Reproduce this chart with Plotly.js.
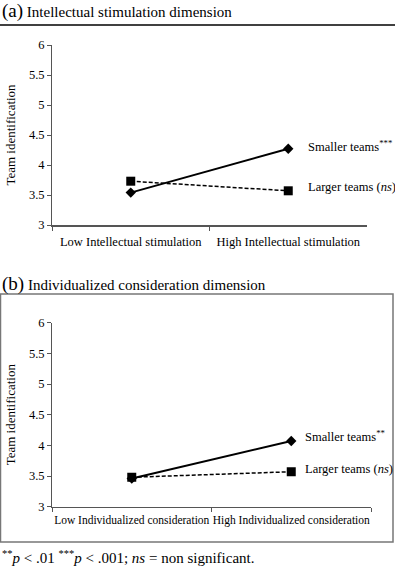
<!DOCTYPE html>
<html>
<head>
<meta charset="utf-8">
<script src="https://cdn.plot.ly/plotly-3.0.1.min.js"></script>
<style>html,body{margin:0;padding:0;background:#fff;}#chart{width:395px;height:566px;}</style>
</head>
<body>
<div id="chart"></div>
<script>
// Panel (a)
const categoriesA = ["Low Intellectual stimulation", "High Intellectual stimulation"];
const smallerA = [3.54, 4.27];
const largerA = [3.73, 3.57];
// Panel (b)
const categoriesB = ["Low Individualized consideration", "High Individualized consideration"];
const smallerB = [3.46, 4.07];
const largerB = [3.48, 3.57];
const yTicks = [3, 3.5, 4, 4.5, 5, 5.5, 6];

const FONT = '"Liberation Serif", "Times New Roman", serif';

const traces = [
  {x: categoriesA, y: smallerA, xaxis: 'x', yaxis: 'y', mode: 'lines+markers', name: 'Smaller teams',
   line: {color: '#000', width: 2}, marker: {symbol: 'diamond', size: 8, color: '#000'}},
  {x: categoriesA, y: largerA, xaxis: 'x', yaxis: 'y', mode: 'lines+markers', name: 'Larger teams',
   line: {color: '#000', width: 1.5, dash: '4px,2px'}, marker: {symbol: 'square', size: 9, color: '#000'}},
  {x: categoriesB, y: smallerB, xaxis: 'x2', yaxis: 'y2', mode: 'lines+markers', name: 'Smaller teams',
   line: {color: '#000', width: 2}, marker: {symbol: 'diamond', size: 8, color: '#000'}},
  {x: categoriesB, y: largerB, xaxis: 'x2', yaxis: 'y2', mode: 'lines+markers', name: 'Larger teams',
   line: {color: '#000', width: 1.5, dash: '4px,2px'}, marker: {symbol: 'square', size: 9, color: '#000'}}
];

const xCommon = {type: 'category', range: [-0.5, 1.5], tickson: 'boundaries', ticks: 'outside', ticklen: 4,
  tickangle: 0, automargin: false, ticklabelstandoff: 4,
  tickcolor: '#555', showline: true, linecolor: '#555', linewidth: 1.5, showgrid: false, zeroline: false,
  tickfont: {family: FONT, size: 12.5, color: '#000'}, fixedrange: true};
const yCommon = {range: [3, 6], tickvals: yTicks, ticktext: yTicks.map(String), ticks: 'outside', ticklen: 4,
  automargin: false,
  tickcolor: '#555', showline: true, linecolor: '#555', linewidth: 1, showgrid: false, zeroline: false,
  tickfont: {family: FONT, size: 12.5, color: '#000'}, fixedrange: true,
  title: {text: 'Team identification', font: {family: FONT, size: 13, color: '#000'}, standoff: 10}};

const layout = {
  width: 395, height: 566,
  margin: {l: 0, r: 0, t: 0, b: 0},
  paper_bgcolor: '#fff', plot_bgcolor: 'rgba(0,0,0,0)',
  showlegend: false,
  font: {family: FONT, color: '#000'},
  xaxis: Object.assign({}, xCommon, {domain: [52/395, 367/395], anchor: 'y'}),
  yaxis: Object.assign({}, yCommon, {domain: [(566-225)/566, (566-45)/566], anchor: 'x'}),
  xaxis2: Object.assign({}, xCommon, {domain: [52/395, 371/395], anchor: 'y2', ticklabelstandoff: 2,
    tickfont: {family: FONT, size: 11.5, color: '#000'}}),
  yaxis2: Object.assign({}, yCommon, {domain: [(566-506.7)/566, (566-322.7)/566], anchor: 'x2'}),
  shapes: [
    {type: 'line', xref: 'paper', yref: 'paper', x0: 0, x1: 1, y0: 1-25/566, y1: 1-25/566,
     line: {color: '#000', width: 1.5}},
    {type: 'rect', xref: 'paper', yref: 'paper', x0: 0.5/395, x1: 393/395, y0: (566-542)/566, y1: (566-294)/566,
     line: {color: '#777', width: 1.5}}
  ],
  annotations: [
    {xref: 'paper', yref: 'paper', x: 0, y: 1-11/566, xanchor: 'left', yanchor: 'middle', showarrow: false,
     text: '<span style="font-size:19px">(a)</span> Intellectual stimulation dimension', font: {family: FONT, size: 15, color: '#000'}},
    {xref: 'paper', yref: 'paper', x: 0, y: 1-284/566, xanchor: 'left', yanchor: 'middle', showarrow: false,
     text: '<span style="font-size:19px">(b)</span> Individualized consideration dimension', font: {family: FONT, size: 15, color: '#000'}},
    {xref: 'x', yref: 'y', x: 1, y: smallerA[1], xanchor: 'left', yanchor: 'middle', xshift: 18, yshift: 3, showarrow: false,
     text: 'Smaller teams<sup>***</sup>', font: {family: FONT, size: 12.5, color: '#000'}},
    {xref: 'x', yref: 'y', x: 1, y: largerA[1], xanchor: 'left', yanchor: 'middle', xshift: 18, yshift: 4, showarrow: false,
     text: 'Larger teams (<i>ns</i>)', font: {family: FONT, size: 12.5, color: '#000'}},
    {xref: 'x2', yref: 'y2', x: 1, y: smallerB[1], xanchor: 'left', yanchor: 'middle', xshift: 12, yshift: 5, showarrow: false,
     text: 'Smaller teams<sup>**</sup>', font: {family: FONT, size: 12.5, color: '#000'}},
    {xref: 'x2', yref: 'y2', x: 1, y: largerB[1], xanchor: 'left', yanchor: 'middle', xshift: 12, yshift: 3, showarrow: false,
     text: 'Larger teams (<i>ns</i>)', font: {family: FONT, size: 12.5, color: '#000'}},
    {xref: 'paper', yref: 'paper', x: 0, y: 1-557/566, xanchor: 'left', yanchor: 'middle', showarrow: false,
     text: '<sup>**</sup><i>p</i> < .01 <sup>***</sup><i>p</i> < .001; <i>ns</i> = non significant.', font: {family: FONT, size: 15, color: '#000'}}
  ]
};

Plotly.newPlot('chart', traces, layout, {displayModeBar: false, staticPlot: true});
</script>
</body>
</html>
